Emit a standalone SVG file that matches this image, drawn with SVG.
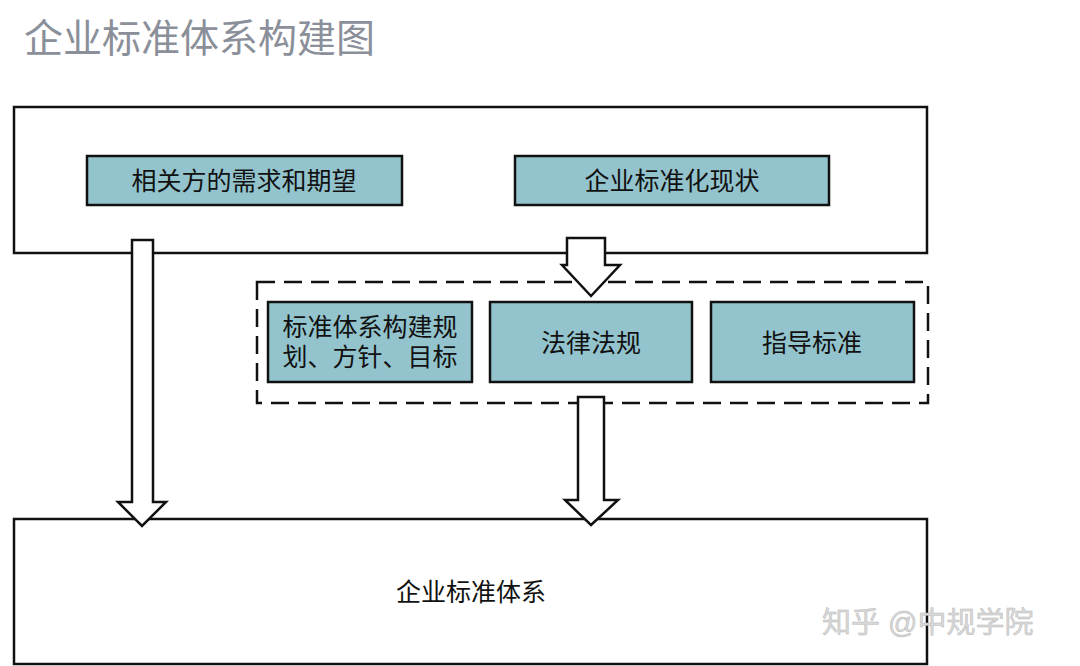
<svg xmlns="http://www.w3.org/2000/svg" width="1080" height="666" viewBox="0 0 1080 666">
<style>
text{font-family:"Liberation Sans","Noto Sans CJK SC",sans-serif;fill:#111}
.frame{fill:#fff;stroke:#111;stroke-width:2.5}
.node{fill:#93c4cd;stroke:#111;stroke-width:2.5}
.arrow{fill:#fff;stroke:#111;stroke-width:2.5;stroke-linejoin:miter}
.lbl{font-size:25px;text-anchor:middle}
</style>
<rect width="1080" height="666" fill="#fff"/>
<text x="24" y="52" style="font-size:39px;fill:#8a8f99">企业标准体系构建图</text>
<g id="top-frame"><rect class="frame" x="14" y="107" width="913" height="146"/></g>
<g id="bottom-frame"><rect class="frame" x="14" y="519" width="913" height="145"/>
<text class="lbl" x="471" y="601">企业标准体系</text></g>
<g id="dashed-group"><rect x="257" y="282" width="671" height="121" fill="none" stroke="#111" stroke-width="2.5" stroke-dasharray="18,9"/></g>
<g id="n1"><rect class="node" x="87" y="156" width="315" height="49"/><text class="lbl" x="244" y="190">相关方的需求和期望</text></g>
<g id="n2"><rect class="node" x="515" y="156" width="314" height="49"/><text class="lbl" x="672" y="190">企业标准化现状</text></g>
<g id="n3"><rect class="node" x="268" y="302" width="204" height="80"/><text class="lbl" x="370" y="336">标准体系构建规</text><text class="lbl" x="370" y="366">划、方针、目标</text></g>
<g id="n4"><rect class="node" x="490" y="302" width="202" height="80"/><text class="lbl" x="591" y="352">法律法规</text></g>
<g id="n5"><rect class="node" x="711" y="302" width="203" height="80"/><text class="lbl" x="812" y="352">指导标准</text></g>
<g id="connectors">
<path class="arrow" d="M132,240 H153 V502 H166 L142,526 L118,502 H132 Z"/>
<path class="arrow" d="M567,238 H605 V265 H620 L591,296 L562,265 H567 Z"/>
<path class="arrow" d="M578,397 H604 V500 H618 L591,525 L565,500 H578 Z"/>
</g>
<text x="822" y="633" style="font-size:29px;fill:#d8d8d8;stroke:#bbb;stroke-width:0.5">知乎 @中规学院</text>
</svg>
